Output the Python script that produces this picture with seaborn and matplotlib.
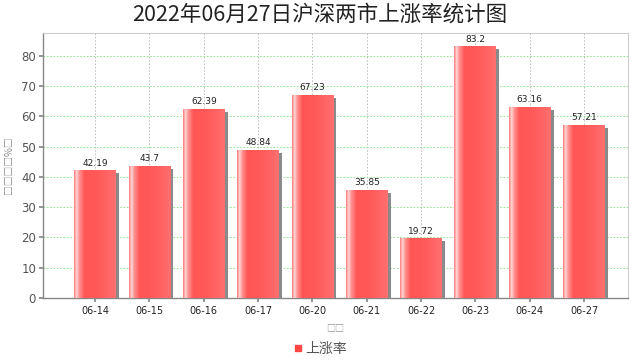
import numpy as np
import pandas as pd
import matplotlib
matplotlib.use("Agg")
import matplotlib.pyplot as plt
import matplotlib.transforms as mtransforms
from matplotlib.patches import Rectangle
from matplotlib.lines import Line2D
import seaborn as sns

dates = ["06-14", "06-15", "06-16", "06-17", "06-20", "06-21", "06-22", "06-23", "06-24", "06-27"]
rates = [42.19, 43.7, 62.39, 48.84, 67.23, 35.85, 19.72, 83.2, 63.16, 57.21]
value_labels = ["42.19", "43.7", "62.39", "48.84", "67.23", "35.85", "19.72", "83.2", "63.16", "57.21"]
title = "2022年06月27日沪深两市上涨率统计图"
series_name = "上涨率"
y_label = "□□□□%□"
x_label = "□□"

sns.set_theme(style="white")
plt.rcParams["font.family"] = ["Noto Sans CJK SC", "DejaVu Sans"]

df = pd.DataFrame({"date": dates, "rate": rates})

fig = plt.figure(figsize=(6.4, 3.6), dpi=100)
ax = fig.add_axes([43/640, 62/360, 585/640, 265/360])
ax.set_facecolor("white")

sns.barplot(data=df, x="date", y="rate", color="#ff5555", width=0.77, ax=ax,
            saturation=1, zorder=3)

# gradient for bars
grad_cols = np.array([
    [255, 120, 120], [255, 215, 215], [255, 150, 150], [255, 85, 85],
    [255, 88, 88], [255, 95, 95], [255, 105, 105], [255, 112, 112],
]) / 255.0
xi = np.linspace(0, 1, 200)
g = np.stack([np.interp(xi, [0, 0.06, 0.12, 0.25, 0.5, 0.7, 0.88, 1.0], grad_cols[:, c]) for c in range(3)], axis=-1)
g = g[np.newaxis, :, :]

for p in list(ax.patches):
    x0, y0 = p.get_x(), p.get_y()
    w, h = p.get_width(), p.get_height()
    off = mtransforms.offset_copy(ax.transData, fig=fig, x=3, y=-3, units="dots")
    sh = Rectangle((x0, y0), w, h, transform=off, facecolor="#8a8a8a",
                   edgecolor="none", zorder=2)
    ax.add_patch(sh)
    im = ax.imshow(g, extent=[x0, x0 + w, y0, y0 + h], aspect="auto",
                   zorder=3.5, interpolation="bilinear")
    im.set_clip_path(p)
    p.set_edgecolor("none")

for i, (v, lab) in enumerate(zip(rates, value_labels)):
    ax.annotate(lab, (i, v), xytext=(0, 2), textcoords="offset points",
                ha="center", va="bottom", fontsize=6.5, color="#222222",
                family="DejaVu Sans", zorder=5)

ax.set_xlim(-0.96, 9.81)
ax.set_ylim(0, 87.6)
ax.set_yticks(np.arange(0, 81, 10))

ax.yaxis.grid(True, color="#7fe07f", linestyle=(0, (2, 2)), linewidth=0.6)
ax.xaxis.grid(True, color="#b8b8b8", linestyle=(0, (2, 2)), linewidth=0.6)
ax.set_axisbelow(True)

for s in ["left", "bottom"]:
    ax.spines[s].set_color("#888888")
    ax.spines[s].set_linewidth(1.0)
for s in ["top", "right"]:
    ax.spines[s].set_color("#cccccc")
    ax.spines[s].set_linewidth(0.8)

ax.tick_params(axis="y", labelsize=8.5, labelcolor="#555555", length=3,
               color="#888888", left=True, pad=2)
ax.tick_params(axis="x", labelsize=7, labelcolor="#222222", length=3,
               color="#888888", bottom=True, pad=3)
for t in ax.get_xticklabels():
    t.set_family("DejaVu Sans")
for t in ax.get_yticklabels():
    t.set_family("DejaVu Sans")

ax.set_ylabel(y_label, fontsize=7, color="#888888", labelpad=5)
ax.set_xlabel(x_label, fontsize=6.5, color="#999999", labelpad=5)

fig.text(0.5, 1 - 15/360, title, ha="center", va="center", fontsize=15.5,
         color="#222222", style="italic")

handle = Line2D([], [], marker="s", linestyle="none", markersize=5,
                markerfacecolor="#ff4444", markeredgecolor="#ff4444")
fig.legend([handle], [series_name], loc="center", bbox_to_anchor=(0.5, 11/360),
           frameon=False, fontsize=10, handletextpad=0.1, labelcolor="#555555",
           handlelength=0.8)

fig.savefig("out.png", dpi=100, facecolor="white")
